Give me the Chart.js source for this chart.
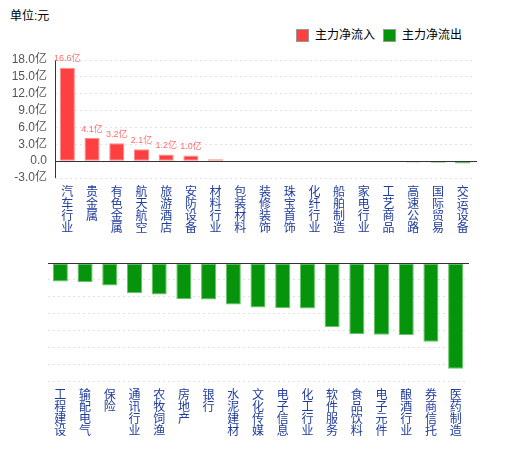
<!DOCTYPE html>
<html><head><meta charset="utf-8">
<script src="https://cdn.jsdelivr.net/npm/chart.js@4"></script>
<style>
body{margin:0;width:527px;height:472px;background:#fff;position:relative;overflow:hidden;font-family:"Liberation Sans","Noto Sans CJK SC",sans-serif;}
#unit{position:absolute;left:10px;top:8px;font-size:12px;line-height:16px;color:#000;}
#legend{position:absolute;left:296px;top:27px;font-size:12px;line-height:16px;display:flex;align-items:center;color:#000;}
.box{width:11px;height:11px;border:1px solid #999;display:inline-block;margin-right:6px}
#c1{position:absolute;left:0;top:50px}
#c2{position:absolute;left:0;top:250px}
</style></head>
<body>
<div id="unit">单位:元</div>
<div id="legend"><span class="box" style="background:#ff4040"></span><span>主力净流入</span><span class="box" style="background:#05940c;margin-left:8px"></span><span>主力净流出</span></div>
<canvas id="c1" width="527" height="190"></canvas>
<canvas id="c2" width="527" height="195"></canvas>
<script>
const topCategories = ['汽车行业','贵金属','有色金属','航天航空','旅游酒店','安防设备','材料行业','包装材料','装修装饰','珠宝首饰','化纤行业','船舶制造','家电行业','工艺商品','高速公路','国际贸易','交运设备'];
const topValues = [16.6, 4.1, 3.2, 2.1, 1.2, 1.0, 0.35, 0, 0, 0, -0.05, -0.1, -0.1, -0.15, -0.25, -0.3, -0.4];
const bottomCategories = ['工程建设','输配电气','保险','通讯行业','农牧饲渔','房地产','银行','水泥建材','文化传媒','电子信息','化工行业','软件服务','食品饮料','电子元件','酿酒行业','券商信托','医药制造'];
const bottomValues = [-3.3, -3.4, -4.0, -5.4, -5.6, -6.4, -6.5, -7.4, -7.9, -8.0, -8.1, -11.4, -12.7, -12.75, -12.8, -14.0, -18.8];
const topTicks = {min: -3, max: 18, step: 3};
const bottomTicks = {min: -21, max: 0, step: 3};

const RED = '#ff4040', RED_B = '#ff8a8a', GREEN = '#05940c', GREEN_B = '#66c466';
const CJK = '"Noto Sans CJK SC", sans-serif';
const LAT = '"Liberation Sans", "Noto Sans CJK SC", sans-serif';

const axisPlugin = {
  id: 'axisLines',
  afterDatasetsDraw(chart, args, opts) {
    const {ctx, chartArea} = chart;
    const y = chart.scales.y;
    ctx.save();
    ctx.strokeStyle = '#333';
    ctx.lineWidth = 1;
    const zy = Math.round(y.getPixelForValue(0)) + 0.5;
    ctx.beginPath();
    ctx.moveTo(chartArea.left, zy); ctx.lineTo(chartArea.right + (opts.extra || 0), zy);
    if (opts.left) {
      const lx = Math.round(chartArea.left) + 0.5;
      ctx.moveTo(lx, chartArea.top); ctx.lineTo(lx, chartArea.bottom);
    }
    ctx.stroke();
    ctx.restore();
  }
};
const labelPlugin = {
  id: 'valLabels',
  afterDatasetsDraw(chart) {
    const {ctx} = chart;
    const meta = chart.getDatasetMeta(0);
    ctx.save();
    ctx.font = '9px ' + LAT;
    ctx.fillStyle = '#ff6e6e';
    ctx.textAlign = 'center';
    ctx.textBaseline = 'middle';
    meta.data.forEach((el, i) => {
      const v = chart.data.datasets[0].data[i];
      if (v >= 1) ctx.fillText(v.toFixed(1) + '亿', el.x, el.y - 9);
    });
    ctx.restore();
  }
};
function splitChars(arr){ return arr.map(s => s.split('')); }

new Chart(document.getElementById('c1'), {
  type: 'bar',
  data: {
    labels: splitChars(topCategories),
    datasets: [{
      data: topValues,
      backgroundColor: ctx => ctx.raw >= 0 ? RED : GREEN,
      borderColor: ctx => ctx.raw >= 0 ? RED_B : GREEN_B,
      borderWidth: 1,
      borderSkipped: false,
      barPercentage: 0.61,
      categoryPercentage: 1
    }]
  },
  options: {
    responsive: false, animation: false,
    layout: {padding: {left: 0, right: 52, top: 10, bottom: 0}},
    plugins: {legend: {display: false}, tooltip: {enabled: false}, axisLines: {left: true, extra: 2}},
    scales: {
      x: {
        grid: {display: false}, border: {display: false},
        ticks: {font: {family: CJK, size: 12, lineHeight: 0.98}, color: '#203c9c', padding: 0, maxRotation: 0, autoSkip: false},
        afterFit: s => { s.height = 62; }
      },
      y: {
        min: topTicks.min, max: topTicks.max,
        grid: {color: '#e2e2e2', drawTicks: false},
        border: {display: false, dash: [2, 3]},
        ticks: {stepSize: topTicks.step, autoSkip: false, font: {family: LAT, size: 12}, color: '#555', padding: 8,
          callback: v => v === 0 ? '0.0' : v.toFixed(1) + '亿'},
        afterFit: s => { s.width = 55; s.paddingTop = 0; s.paddingBottom = 0; }
      }
    }
  },
  plugins: [axisPlugin, labelPlugin]
});

new Chart(document.getElementById('c2'), {
  type: 'bar',
  data: {
    labels: splitChars(bottomCategories),
    datasets: [{
      data: bottomValues,
      backgroundColor: GREEN,
      borderColor: GREEN_B,
      borderWidth: 1,
      borderSkipped: false,
      barPercentage: 0.61,
      categoryPercentage: 1
    }]
  },
  options: {
    responsive: false, animation: false,
    layout: {padding: {left: 0, right: 59, top: 13, bottom: 0}},
    plugins: {legend: {display: false}, tooltip: {enabled: false}, axisLines: {left: false, extra: 1}},
    scales: {
      x: {
        grid: {display: false}, border: {display: false},
        ticks: {font: {family: CJK, size: 12, lineHeight: 0.98}, color: '#203c9c', padding: 0, maxRotation: 0, autoSkip: false},
        afterFit: s => { s.height = 64; }
      },
      y: {
        min: bottomTicks.min, max: bottomTicks.max,
        grid: {color: '#e2e2e2', drawTicks: false},
        border: {display: false, dash: [2, 3]},
        ticks: {stepSize: bottomTicks.step, autoSkip: false, display: false},
        afterFit: s => { s.width = 48; s.paddingTop = 0; s.paddingBottom = 0; }
      }
    }
  },
  plugins: [axisPlugin]
});
</script>
</body></html>
